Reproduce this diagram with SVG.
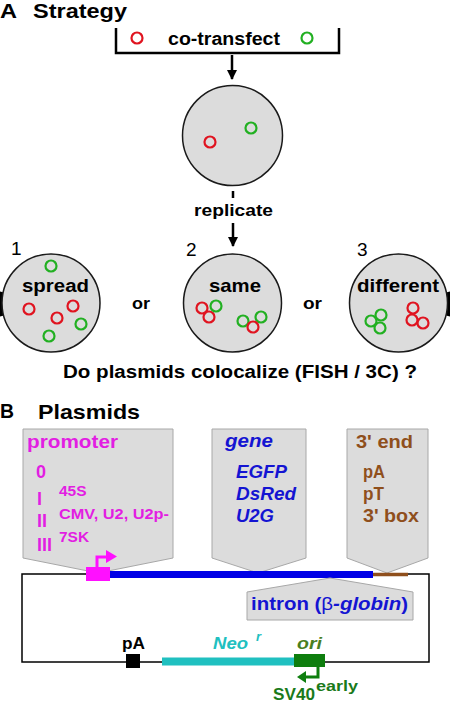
<svg xmlns="http://www.w3.org/2000/svg" width="450" height="704" viewBox="0 0 450 704">
<defs>
<style>
.t{font-family:"Liberation Sans",Arial,sans-serif;font-weight:bold}
.n{font-family:"Liberation Sans",Arial,sans-serif}
.cell{fill:#dcdcdc;stroke:#1a1a1a;stroke-width:1.5}
.r{fill:none;stroke:#e01420;stroke-width:2.2}
.g{fill:none;stroke:#22b022;stroke-width:2.2}
.box{fill:#dcdcdc;stroke:#a8a8a8;stroke-width:1}
.blk{fill:none;stroke:#000;stroke-width:2.5}
</style>
<marker id="ah" viewBox="0 0 10 10" refX="9" refY="5" markerWidth="4" markerHeight="4" orient="auto"><path d="M0,0 L10,5 L0,10 Z" fill="#000"/></marker>
</defs>
<rect width="450" height="704" fill="#fff"/>

<!-- Part A -->
<text class="t" x="0" y="18" font-size="20" textLength="17" lengthAdjust="spacingAndGlyphs">A</text>
<text class="t" x="33" y="18" font-size="20" textLength="94" lengthAdjust="spacingAndGlyphs">Strategy</text>

<g id="cotransfect">
<path class="blk" d="M116,28 V53 H339 V28"/>
<circle class="r" cx="137" cy="38" r="5.5"/>
<circle class="g" cx="307" cy="38" r="5.5"/>
<text class="t" x="168" y="45" font-size="17.5" textLength="112" lengthAdjust="spacingAndGlyphs">co-transfect</text>
</g>

<g id="cell0">
<circle class="cell" cx="232.5" cy="135.5" r="50"/>
<circle class="r" cx="210" cy="142" r="5.5"/>
<circle class="g" cx="251" cy="128" r="5.5"/>
</g>

<g id="connectors">
<line x1="232" y1="55" x2="232" y2="79" stroke="#000" stroke-width="2.5" marker-end="url(#ah)"/>
<line x1="233" y1="191" x2="233" y2="198" stroke="#000" stroke-width="2.5"/>
<line x1="233" y1="223" x2="233" y2="246" stroke="#000" stroke-width="2.5" marker-end="url(#ah)"/>
</g>
<text class="t" x="194" y="216" font-size="17" textLength="79" lengthAdjust="spacingAndGlyphs">replicate</text>

<g id="cell1">
<path d="M2,292 A49,49 0 0 0 2,316" fill="none" stroke="#000" stroke-width="4"/>
<circle class="cell" cx="51" cy="303" r="49"/>
<text class="n" x="11" y="255" font-size="19">1</text>
<text class="t" x="22" y="292" font-size="18" textLength="67" lengthAdjust="spacingAndGlyphs">spread</text>
<circle class="g" cx="51" cy="266" r="5.5"/>
<circle class="r" cx="29" cy="309" r="5.5"/>
<circle class="r" cx="73" cy="306" r="5.5"/>
<circle class="r" cx="57" cy="318" r="5.5"/>
<circle class="g" cx="81" cy="324" r="5.5"/>
<circle class="g" cx="49" cy="336" r="5.5"/>
</g>
<text class="t" x="132" y="309" font-size="16.5" textLength="18" lengthAdjust="spacingAndGlyphs">or</text>

<g id="cell2">
<circle class="cell" cx="232.5" cy="303" r="49"/>
<text class="n" x="186" y="256" font-size="19">2</text>
<text class="t" x="209" y="292" font-size="18.5" textLength="52" lengthAdjust="spacingAndGlyphs">same</text>
<circle class="r" cx="202" cy="308" r="5.5"/>
<circle class="r" cx="209" cy="317" r="5.5"/>
<circle class="g" cx="216" cy="306" r="5.5"/>
<circle class="g" cx="243" cy="321" r="5.5"/>
<circle class="g" cx="261" cy="317" r="5.5"/>
<circle class="r" cx="253" cy="327" r="5.5"/>
</g>
<text class="t" x="303" y="309" font-size="16.5" textLength="19" lengthAdjust="spacingAndGlyphs">or</text>

<g id="cell3">
<path d="M448,292 A49,49 0 0 1 448,316" fill="none" stroke="#000" stroke-width="4"/>
<circle class="cell" cx="398.5" cy="303" r="49"/>
<text class="n" x="357" y="256" font-size="19">3</text>
<text class="t" x="357" y="292" font-size="18.5" textLength="82" lengthAdjust="spacingAndGlyphs">different</text>
<circle class="g" cx="371" cy="321" r="5.5"/>
<circle class="g" cx="381" cy="315" r="5.5"/>
<circle class="g" cx="380" cy="328" r="5.5"/>
<circle class="r" cx="413" cy="308" r="5.5"/>
<circle class="r" cx="412" cy="320" r="5.5"/>
<circle class="r" cx="423" cy="323" r="5.5"/>
</g>

<text class="t" x="63" y="378" font-size="18" textLength="354" lengthAdjust="spacingAndGlyphs">Do plasmids colocalize (FISH / 3C) ?</text>

<!-- Part B -->
<text class="t" x="0" y="418" font-size="20" textLength="14" lengthAdjust="spacingAndGlyphs">B</text>
<text class="t" x="38" y="419" font-size="20.5" textLength="102" lengthAdjust="spacingAndGlyphs">Plasmids</text>

<g id="promoter-box">
<path class="box" d="M23,429 H173 V558 L98,573 L23,558 Z"/>
<g class="t" fill="#e21ee2">
<text x="27" y="448" font-size="19" textLength="91" lengthAdjust="spacingAndGlyphs">promoter</text>
<text x="36" y="478" font-size="18">0</text>
<text x="37" y="505" font-size="18">I</text>
<text x="37" y="527" font-size="18">II</text>
<text x="37" y="551" font-size="18">III</text>
<text x="59" y="496" font-size="15.5">45S</text>
<text x="59" y="518.5" font-size="15.5" textLength="110" lengthAdjust="spacingAndGlyphs">CMV, U2, U2p-</text>
<text x="59" y="541.5" font-size="15.5">7SK</text>
</g>
</g>

<g id="gene-box">
<path class="box" d="M212,429 H306 V558 L258,573 L212,558 Z"/>
<g class="t" fill="#1414d2" font-style="italic">
<text x="225" y="447" font-size="19" textLength="48" lengthAdjust="spacingAndGlyphs">gene</text>
<text x="236" y="478" font-size="17.5" textLength="51" lengthAdjust="spacingAndGlyphs">EGFP</text>
<text x="236" y="500" font-size="17.5" textLength="60" lengthAdjust="spacingAndGlyphs">DsRed</text>
<text x="236" y="522" font-size="17.5" textLength="38" lengthAdjust="spacingAndGlyphs">U2G</text>
</g>
</g>

<g id="end-box">
<path class="box" d="M347,429 H428 V558 L387,573 L347,558 Z"/>
<g class="t" fill="#8f4f1c">
<text x="356" y="448" font-size="19" textLength="57" lengthAdjust="spacingAndGlyphs">3' end</text>
<text x="363" y="478" font-size="18" textLength="22" lengthAdjust="spacingAndGlyphs">pA</text>
<text x="363" y="500" font-size="18" textLength="21" lengthAdjust="spacingAndGlyphs">pT</text>
<text x="363" y="522" font-size="18" textLength="56" lengthAdjust="spacingAndGlyphs">3' box</text>
</g>
</g>

<g id="plasmid">
<rect x="22" y="574" width="407" height="88" fill="none" stroke="#000" stroke-width="1.5"/>
<line x1="110" y1="574.5" x2="373" y2="574.5" stroke="#0000e6" stroke-width="7"/>
<line x1="373" y1="574.5" x2="408" y2="574.5" stroke="#8f4f1c" stroke-width="3.5"/>
<rect x="86" y="567" width="24" height="14" fill="#ff10ff"/>
<path d="M97,567 V557 H107" fill="none" stroke="#ff10ff" stroke-width="3"/>
<path d="M106,550 L117,556.5 L106,563 Z" fill="#ff10ff"/>
<line x1="162" y1="661.5" x2="295" y2="661.5" stroke="#20c0c0" stroke-width="8"/>
<rect x="126" y="654" width="14" height="14" fill="#000"/>
<rect x="294" y="654" width="31" height="13" fill="#0e7e0e"/>
<path d="M318,667 V677 H304" fill="none" stroke="#0e7e0e" stroke-width="3"/>
<path d="M306,671 L297,677 L306,683 Z" fill="#0e7e0e"/>
</g>

<g id="intron-box">
<path class="box" d="M247,620 V592 L330,578 L413,592 V620 Z"/>
<text class="t" x="251" y="610" font-size="19" fill="#1414d2" textLength="157" lengthAdjust="spacingAndGlyphs">intron (<tspan font-weight="normal">β</tspan><tspan font-style="italic">-globin</tspan>)</text>
</g>

<g id="labels-bottom">
<text class="t" x="122" y="649" font-size="17" textLength="23" lengthAdjust="spacingAndGlyphs">pA</text>
<text class="t" x="213" y="649" font-size="17" fill="#20c0c0" font-style="italic" textLength="35" lengthAdjust="spacingAndGlyphs">Neo</text>
<text class="t" x="256" y="641" font-size="13" fill="#20c0c0" font-style="italic">r</text>
<text class="t" x="297" y="649" font-size="17" fill="#4a7f1f" font-style="italic" textLength="25" lengthAdjust="spacingAndGlyphs">ori</text>
<text class="t" x="273" y="700" font-size="17" fill="#1a7a1a" textLength="42" lengthAdjust="spacingAndGlyphs">SV40</text>
<text class="t" x="316" y="691" font-size="14" fill="#1a7a1a" textLength="42" lengthAdjust="spacingAndGlyphs">early</text>
</g>
</svg>
